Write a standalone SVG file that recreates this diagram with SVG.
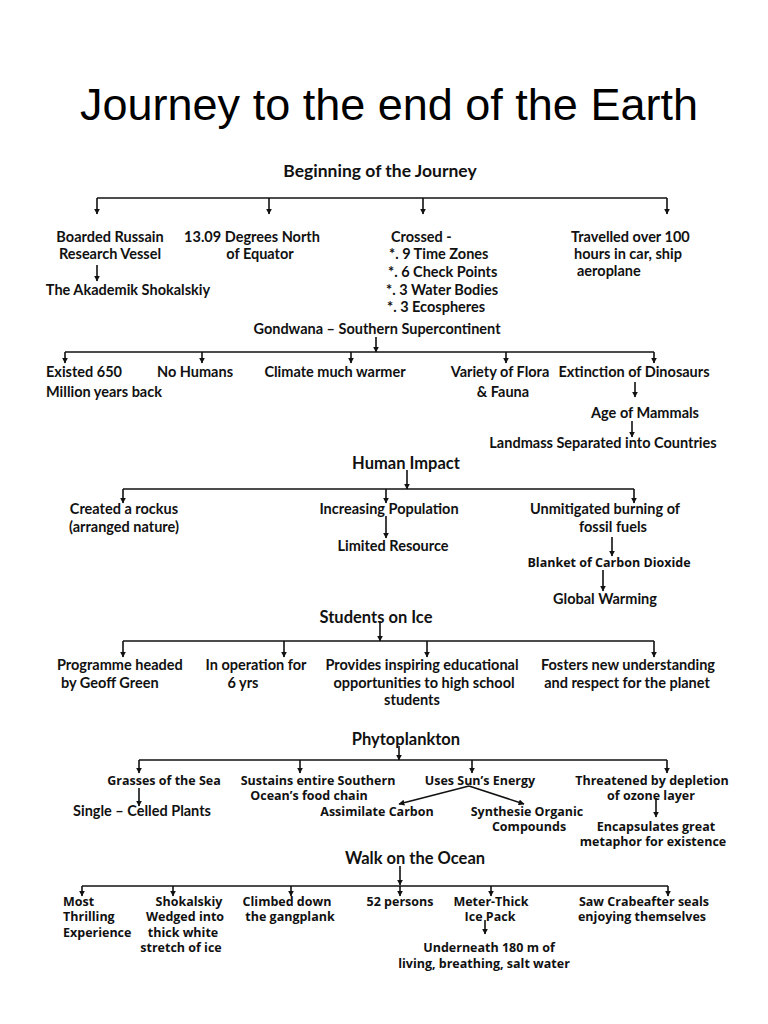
<svg xmlns="http://www.w3.org/2000/svg" width="768" height="1024" viewBox="0 0 768 1024">
<defs>
<marker id="ah" viewBox="0 0 10 10" refX="9" refY="5" markerWidth="6" markerHeight="6" orient="auto" markerUnits="userSpaceOnUse"><path d="M0,0 L10,5 L0,10 z" fill="#111"/></marker>
<style>
.title{font-family:"Liberation Sans",Arial,sans-serif;font-size:45px;fill:#000}
.h{font-family:Lato,"Open Sans",sans-serif;font-weight:bold;font-size:16.5px;fill:#111}
.t{font-family:Lato,"Open Sans",sans-serif;font-weight:bold;font-size:14.5px;fill:#111}
.s{font-family:"Open Sans",Lato,sans-serif;font-weight:bold;font-size:12.5px;fill:#111}
.c{text-anchor:middle}
.ln{stroke:#111;stroke-width:1.6;fill:none}
.ar{stroke:#111;stroke-width:1.6;fill:none;marker-end:url(#ah)}
</style>
</defs>
<rect width="768" height="1024" fill="#fff"/>
<text class="title c" x="389" y="120">Journey to the end of the Earth</text>

<g id="connectors">
<path class="ln" d="M97,198 H667"/>
<path class="ar" d="M97,198 V214"/><path class="ar" d="M269,198 V214"/><path class="ar" d="M423,198 V214"/><path class="ar" d="M667,198 V214"/>
<path class="ar" d="M97,265 V281"/>

<path class="ar" d="M376,337 V352"/>
<path class="ln" d="M65,352 H654"/>
<path class="ar" d="M65,352 V363"/><path class="ar" d="M202,352 V363"/><path class="ar" d="M351,352 V363"/><path class="ar" d="M506,352 V363"/><path class="ar" d="M654,352 V363"/>
<path class="ar" d="M635,382 V397"/>
<path class="ar" d="M632,421 V437"/>

<path class="ar" d="M407,470 V489"/>
<path class="ln" d="M123,489 H634"/>
<path class="ar" d="M123,489 V503"/><path class="ar" d="M386,489 V503"/><path class="ar" d="M634,489 V503"/>
<path class="ar" d="M386,516 V538"/>
<path class="ar" d="M612,537 V556"/>
<path class="ar" d="M603,570 V591"/>

<path class="ar" d="M380,621 V641"/>
<path class="ln" d="M123,641 H654"/>
<path class="ar" d="M123,641 V657"/><path class="ar" d="M284,641 V657"/><path class="ar" d="M427,641 V657"/><path class="ar" d="M654,641 V657"/>

<path class="ar" d="M399,746 V760"/>
<path class="ln" d="M139,760 H667"/>
<path class="ar" d="M139,760 V773"/><path class="ar" d="M300,760 V773"/><path class="ar" d="M472,760 V773"/><path class="ar" d="M667,760 V773"/>
<path class="ar" d="M139,788 V806"/>
<path class="ar" d="M469,786 L399,804"/><path class="ar" d="M469,786 L524,804"/>
<path class="ar" d="M656,798 V817"/>

<path class="ar" d="M400,866 V885"/>
<path class="ln" d="M82,886 H668"/>
<path class="ar" d="M82,886 V896"/><path class="ar" d="M173,886 V896"/><path class="ar" d="M291,886 V896"/><path class="ar" d="M400,886 V896"/><path class="ar" d="M491,886 V896"/><path class="ar" d="M668,886 V896"/>
<path class="ar" d="M485,920 V934"/>
</g>

<g id="beginning"><text class="h c" x="380" y="177" style="font-size:17.5px">Beginning of the Journey</text></g>
<g id="boarded"><text class="t c" x="110" y="242">Boarded Russain</text><text class="t c" x="110" y="259">Research Vessel</text></g>
<g id="akademik"><text class="t c" x="128" y="295">The Akademik Shokalskiy</text></g>
<g id="degrees"><text class="t c" x="252" y="242">13.09 Degrees North</text><text class="t c" x="260" y="259">of Equator</text></g>
<g id="crossed"><text class="t" x="391" y="242">Crossed -</text><text class="t" x="389" y="259">*. 9 Time Zones</text><text class="t" x="388" y="277">*. 6 Check Points</text><text class="t" x="386" y="295">*. 3 Water Bodies</text><text class="t" x="387" y="312">*. 3 Ecospheres</text></g>
<g id="travelled"><text class="t" x="571" y="242">Travelled over 100</text><text class="t" x="574" y="259">hours in car, ship</text><text class="t" x="577" y="276">aeroplane</text></g>

<g id="gondwana"><text class="t c" x="377" y="334">Gondwana – Southern Supercontinent</text></g>
<g id="existed"><text class="t" x="46" y="377">Existed 650</text><text class="t" x="46" y="397">Million years back</text></g>
<g id="nohumans"><text class="t c" x="195" y="377">No Humans</text></g>
<g id="climate"><text class="t c" x="335" y="377">Climate much warmer</text></g>
<g id="variety"><text class="t c" x="500" y="377">Variety of Flora</text><text class="t c" x="503" y="397">&amp; Fauna</text></g>
<g id="extinction"><text class="t c" x="634" y="377">Extinction of Dinosaurs</text></g>
<g id="mammals"><text class="t c" x="645" y="418">Age of Mammals</text></g>
<g id="landmass"><text class="t c" x="603" y="448">Landmass Separated into Countries</text></g>

<g id="human"><text class="h c" x="406" y="469">Human Impact</text></g>
<g id="rockus"><text class="t c" x="124" y="514">Created a rockus</text><text class="t c" x="124" y="532">(arranged nature)</text></g>
<g id="population"><text class="t c" x="389" y="514">Increasing Population</text></g>
<g id="resource"><text class="t c" x="393" y="551">Limited Resource</text></g>
<g id="fossil"><text class="t c" x="605" y="514">Unmitigated burning of</text><text class="t c" x="613" y="532">fossil fuels</text></g>
<g id="blanket"><text class="s c" x="609" y="567">Blanket of Carbon Dioxide</text></g>
<g id="warming"><text class="t c" x="605" y="604">Global Warming</text></g>

<g id="students"><text class="h c" x="376" y="623">Students on Ice</text></g>
<g id="programme"><text class="t" x="57" y="670">Programme headed</text><text class="t" x="61" y="688">by Geoff Green</text></g>
<g id="operation"><text class="t c" x="256" y="670">In operation for</text><text class="t c" x="243" y="688">6 yrs</text></g>
<g id="provides"><text class="t c" x="422" y="670">Provides inspiring educational</text><text class="t c" x="424" y="688">opportunities to high school</text><text class="t c" x="412" y="705">students</text></g>
<g id="fosters"><text class="t c" x="628" y="670">Fosters new understanding</text><text class="t c" x="627" y="688">and respect for the planet</text></g>

<g id="phyto"><text class="h c" x="406" y="745">Phytoplankton</text></g>
<g id="grasses"><text class="s c" x="164" y="785">Grasses of the Sea</text></g>
<g id="single"><text class="t c" x="142" y="816">Single – Celled Plants</text></g>
<g id="sustains"><text class="s c" x="318" y="785">Sustains entire Southern</text><text class="s c" x="309" y="800">Ocean’s food chain</text></g>
<g id="sun"><text class="s c" x="480" y="785">Uses Sun’s Energy</text></g>
<g id="assimilate"><text class="s c" x="377" y="816">Assimilate Carbon</text></g>
<g id="synthesie"><text class="s c" x="527" y="816">Synthesie Organic</text><text class="s c" x="529" y="831">Compounds</text></g>
<g id="threatened"><text class="s c" x="652" y="785">Threatened by depletion</text><text class="s c" x="651" y="800">of ozone layer</text></g>
<g id="encapsulates"><text class="s c" x="656" y="831">Encapsulates great</text><text class="s c" x="653" y="846">metaphor for existence</text></g>

<g id="walk"><text class="h c" x="415" y="864">Walk on the Ocean</text></g>
<g id="thrilling"><text class="s" x="63" y="906">Most</text><text class="s" x="63" y="921">Thrilling</text><text class="s" x="63" y="937">Experience</text></g>
<g id="wedged"><text class="s c" x="189" y="906">Shokalskiy</text><text class="s c" x="185" y="921">Wedged into</text><text class="s c" x="183" y="937">thick white</text><text class="s c" x="181" y="952">stretch of ice</text></g>
<g id="climbed"><text class="s c" x="287" y="906">Climbed down</text><text class="s c" x="290" y="921">the gangplank</text></g>
<g id="persons"><text class="s c" x="400" y="906">52 persons</text></g>
<g id="meter"><text class="s c" x="491" y="906">Meter-Thick</text><text class="s c" x="490" y="921">Ice Pack</text></g>
<g id="underneath"><text class="s c" x="489" y="952">Underneath 180 m of</text><text class="s c" x="484" y="968">living, breathing, salt water</text></g>
<g id="seals"><text class="s c" x="644" y="906">Saw Crabeafter seals</text><text class="s c" x="642" y="921">enjoying themselves</text></g>
</svg>
